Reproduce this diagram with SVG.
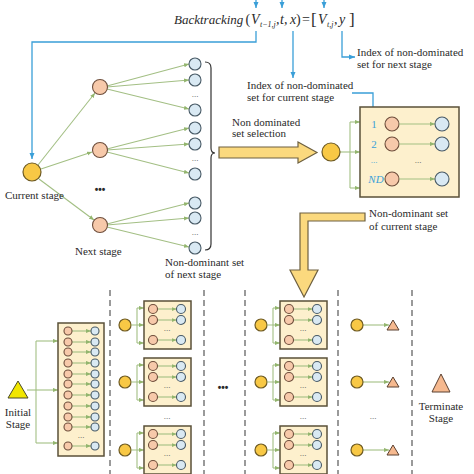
<svg xmlns="http://www.w3.org/2000/svg" width="474" height="474" viewBox="0 0 474 474">
<style>
text{font-family:"Liberation Serif","Times New Roman",serif;fill:#2a2a2a}
.lb{font-size:11px}
.it{font-style:italic;font-size:14px}
.sub{font-style:italic;font-size:8px}
.up{font-size:14px}
.bl{stroke:#3a9fd8;stroke-width:1.3;fill:none}
.gr{stroke:#a3bf84;stroke-width:1.1;fill:none}
.gold{fill:#f8c845;stroke:#6e5a22;stroke-width:1.2}
.peach{fill:#f7c9aa;stroke:#6e4e3c;stroke-width:1.1}
.blue{fill:#d9e9f3;stroke:#485a66;stroke-width:1.1}
.box{fill:#fdf0cd;stroke:#5a5038;stroke-width:1.5}
.dash{stroke:#7a7a7a;stroke-width:1.5;stroke-dasharray:6 4}
.dots{font-size:9px;fill:#555;text-anchor:middle}
.big{fill:#fbd97e;stroke:#6e6040;stroke-width:1.2}
</style>
<defs>
<marker id="ga" viewBox="0 0 6 6" refX="6" refY="3" markerWidth="5" markerHeight="5" orient="auto" markerUnits="userSpaceOnUse"><path d="M0,0.5 L6,3 L0,5.5 z" fill="#93b56e"/></marker>
<marker id="ba" viewBox="0 0 6 6" refX="6" refY="3" markerWidth="6" markerHeight="6" orient="auto" markerUnits="userSpaceOnUse"><path d="M0,0.5 L6,3 L0,5.5 z" fill="#3a9fd8"/></marker>
</defs>

<!-- formula -->
<g id="formula">
<text class="it" x="174" y="24" style="font-size:13px">Backtracking</text>
<text class="up" x="245.5" y="24">(</text>
<text class="it" x="251" y="24">V</text>
<text class="sub" x="260" y="27">t−1,j</text>
<text class="it" x="276" y="24">,</text>
<text class="it" x="280" y="24">t</text>
<text class="it" x="284" y="24">,</text>
<text class="it" x="290" y="24">x</text>
<text class="up" x="296" y="24">)</text>
<text class="up" x="302" y="24">=</text>
<text class="up" x="311" y="25" style="font-size:17px">[</text>
<text class="it" x="318" y="24">V</text>
<text class="sub" x="327" y="27">t,j</text>
<text class="it" x="334" y="24">,</text>
<text class="it" x="339" y="24">y</text>
<text class="up" x="349" y="25" style="font-size:17px">]</text>
</g>

<!-- connectors -->
<g id="connectors">
<line class="bl" x1="256" y1="0" x2="256" y2="8" marker-end="url(#ba)"/>
<line class="bl" x1="282" y1="0" x2="282" y2="8" marker-end="url(#ba)"/>
<line class="bl" x1="324" y1="0" x2="324" y2="8" marker-end="url(#ba)"/>
<polyline class="bl" points="256,31 256,42 32,42 32,159" marker-end="url(#ba)"/>
<line class="bl" x1="293" y1="31" x2="293" y2="78" marker-end="url(#ba)"/>
<polyline class="bl" points="342,31 342,57 355,57" marker-end="url(#ba)"/>
<polyline class="bl" points="352,93 373,93 373,116" marker-end="url(#ba)"/>

<!-- tree: current to next -->
<line class="gr" x1="38" y1="165" x2="95" y2="93" marker-end="url(#ga)"/>
<line class="gr" x1="41" y1="169" x2="92" y2="152" marker-end="url(#ga)"/>
<line class="gr" x1="39" y1="179" x2="94" y2="220" marker-end="url(#ga)"/>
<!-- next to leaves -->
<line class="gr" x1="107" y1="86" x2="189" y2="64" marker-end="url(#ga)"/>
<line class="gr" x1="107" y1="87" x2="189" y2="80" marker-end="url(#ga)"/>
<line class="gr" x1="107" y1="89" x2="189" y2="109" marker-end="url(#ga)"/>
<line class="gr" x1="107" y1="149" x2="189" y2="128" marker-end="url(#ga)"/>
<line class="gr" x1="107" y1="150" x2="189" y2="144" marker-end="url(#ga)"/>
<line class="gr" x1="107" y1="152" x2="189" y2="173" marker-end="url(#ga)"/>
<line class="gr" x1="107" y1="224" x2="189" y2="203" marker-end="url(#ga)"/>
<line class="gr" x1="107" y1="225" x2="189" y2="218" marker-end="url(#ga)"/>
<line class="gr" x1="107" y1="227" x2="189" y2="247" marker-end="url(#ga)"/>

<!-- brace -->
<path d="M205,62 Q211,62 211,68 L211,148 Q211,153 215,153 Q211,153 211,158 L211,244 Q211,250 205,250" fill="none" stroke="#333" stroke-width="1.2"/>

<!-- current stage box bracket -->
<line class="gr" x1="340" y1="152" x2="350" y2="152"/>
<line class="gr" x1="350" y1="122" x2="350" y2="188"/>
<line class="gr" x1="350" y1="122" x2="360" y2="122" marker-end="url(#ga)"/>
<line class="gr" x1="350" y1="152" x2="360" y2="152" marker-end="url(#ga)"/>
<line class="gr" x1="350" y1="188" x2="360" y2="188" marker-end="url(#ga)"/>

<!-- initial stage bracket -->
<line class="gr" x1="27" y1="390" x2="36" y2="390"/>
<line class="gr" x1="36" y1="341" x2="36" y2="443"/>
<line class="gr" x1="36" y1="341" x2="58" y2="341" marker-end="url(#ga)"/>
<line class="gr" x1="36" y1="390" x2="58" y2="390" marker-end="url(#ga)"/>
<line class="gr" x1="36" y1="443" x2="58" y2="443" marker-end="url(#ga)"/>

<!-- section 5 -->
<line class="gr" x1="363" y1="325" x2="389" y2="325" marker-end="url(#ga)"/>
<line class="gr" x1="363" y1="382" x2="389" y2="382" marker-end="url(#ga)"/>
<line class="gr" x1="363" y1="450" x2="389" y2="450" marker-end="url(#ga)"/>
</g>

<!-- big arrows -->
<g id="arrow-selection">
<polygon class="big" points="219,147 298,147 298,142 317,152.5 298,163 298,158 219,158"/>
</g>
<g id="arrow-down">
<polygon class="big" points="365,213 365,221 308,221 308,270 318,270 304,297 290,270 300,270 300,213"/>
</g>

<!-- dashed separators -->
<g id="separators">
<line class="dash" x1="110" y1="290" x2="110" y2="474"/>
<line class="dash" x1="204" y1="290" x2="204" y2="474"/>
<line class="dash" x1="245" y1="290" x2="245" y2="474"/>
<line class="dash" x1="338" y1="290" x2="338" y2="474"/>
<line class="dash" x1="412" y1="290" x2="412" y2="474"/>
</g>

<!-- tree nodes -->
<g id="current-stage"><circle class="gold" cx="32" cy="172" r="9"/><text class="lb" x="5" y="199">Current stage</text></g>
<g id="next-1"><circle class="peach" cx="100" cy="87" r="7.5"/></g>
<g id="next-2"><circle class="peach" cx="100" cy="150" r="7.5"/></g>
<g id="next-3"><circle class="peach" cx="100" cy="225" r="7.5"/></g>
<text x="100" y="193" style="font-family:'Liberation Sans',sans-serif;font-size:10px;font-weight:bold;text-anchor:middle">•••</text>
<text class="lb" x="75" y="255">Next stage</text>

<g id="leaves">
<circle class="blue" cx="195" cy="64" r="6"/>
<circle class="blue" cx="195" cy="80" r="6"/>
<text class="dots" x="195" y="97">...</text>
<circle class="blue" cx="195" cy="110" r="6"/>
<circle class="blue" cx="195" cy="128" r="6"/>
<circle class="blue" cx="195" cy="144" r="6"/>
<text class="dots" x="195" y="161">...</text>
<circle class="blue" cx="195" cy="174" r="6"/>
<circle class="blue" cx="195" cy="203" r="6"/>
<circle class="blue" cx="195" cy="218" r="6"/>
<text class="dots" x="195" y="235">...</text>
<circle class="blue" cx="195" cy="248" r="6"/>
</g>
<text class="lb" x="165" y="266">Non-dominant set</text>
<text class="lb" x="165" y="278">of next stage</text>

<text class="lb" x="232" y="126">Non dominated</text>
<text class="lb" x="232" y="137">set selection</text>
<text class="lb" x="247" y="89">Index of non-dominated</text>
<text class="lb" x="247" y="101">set for current stage</text>
<text class="lb" x="357" y="56">Index of non-dominated</text>
<text class="lb" x="357" y="68">set for next stage</text>

<!-- current stage set -->
<g id="current-node"><circle class="gold" cx="331" cy="152" r="9"/></g>
<g id="current-set">
<rect class="box" x="360" y="107" width="99" height="90"/>
<text class="lb" x="374" y="128" style="fill:#3a9fd8;text-anchor:middle">1</text>
<circle class="peach" cx="392" cy="124" r="7"/><line class="gr" x1="399" y1="124" x2="435" y2="124" marker-end="url(#ga)"/><circle class="blue" cx="442" cy="124" r="7"/>
<text class="lb" x="374" y="148" style="fill:#3a9fd8;text-anchor:middle">2</text>
<circle class="peach" cx="392" cy="144" r="7"/><line class="gr" x1="399" y1="144" x2="435" y2="144" marker-end="url(#ga)"/><circle class="blue" cx="442" cy="144" r="7"/>
<text class="dots" x="374" y="163" style="fill:#3a9fd8">...</text>
<text class="dots" x="418" y="163">...</text>
<text class="lb" x="376" y="183" style="fill:#3a9fd8;font-style:italic;text-anchor:middle">ND</text>
<circle class="peach" cx="392" cy="179" r="7"/><line class="gr" x1="399" y1="179" x2="435" y2="179" marker-end="url(#ga)"/><circle class="blue" cx="442" cy="179" r="7"/>
</g>
<text class="lb" x="369" y="217">Non-dominant set</text>
<text class="lb" x="369" y="230">of current stage</text>

<!-- initial stage -->
<g id="initial-stage">
<polygon points="18,381 8,398 28,398" fill="#f1e600" stroke="#4a4a2a" stroke-width="1"/>
<text class="lb" x="18" y="416" style="text-anchor:middle">Initial</text>
<text class="lb" x="18" y="428" style="text-anchor:middle">Stage</text>
</g>
<g id="initial-set">
<rect class="box" x="58" y="323" width="46" height="133"/>
<g class="gr">
<line x1="72" y1="331" x2="91" y2="331" marker-end="url(#ga)"/>
<line x1="72" y1="342" x2="91" y2="342" marker-end="url(#ga)"/>
<line x1="72" y1="352" x2="91" y2="352" marker-end="url(#ga)"/>
<line x1="72" y1="363" x2="91" y2="363" marker-end="url(#ga)"/>
<line x1="72" y1="374" x2="91" y2="374" marker-end="url(#ga)"/>
<line x1="72" y1="384" x2="91" y2="384" marker-end="url(#ga)"/>
<line x1="72" y1="395" x2="91" y2="395" marker-end="url(#ga)"/>
<line x1="72" y1="406" x2="91" y2="406" marker-end="url(#ga)"/>
<line x1="72" y1="417" x2="91" y2="417" marker-end="url(#ga)"/>
<line x1="72" y1="427" x2="91" y2="427" marker-end="url(#ga)"/>
<line x1="72" y1="446" x2="91" y2="446" marker-end="url(#ga)"/>
</g>
<g class="peach">
<circle cx="68" cy="331" r="4"/><circle cx="68" cy="342" r="4"/><circle cx="68" cy="352" r="4"/><circle cx="68" cy="363" r="4"/><circle cx="68" cy="374" r="4"/><circle cx="68" cy="384" r="4"/><circle cx="68" cy="395" r="4"/><circle cx="68" cy="406" r="4"/><circle cx="68" cy="417" r="4"/><circle cx="68" cy="427" r="4"/><circle cx="68" cy="446" r="4"/>
</g>
<g class="blue">
<circle cx="95" cy="331" r="4"/><circle cx="95" cy="342" r="4"/><circle cx="95" cy="352" r="4"/><circle cx="95" cy="363" r="4"/><circle cx="95" cy="374" r="4"/><circle cx="95" cy="384" r="4"/><circle cx="95" cy="395" r="4"/><circle cx="95" cy="406" r="4"/><circle cx="95" cy="417" r="4"/><circle cx="95" cy="427" r="4"/><circle cx="95" cy="446" r="4"/>
</g>
<text class="dots" x="81" y="438">...</text>
</g>

<!-- small set modules: section 2 -->
<g id="s2-a" transform="translate(125,325)">
<circle class="gold" cx="0" cy="0" r="6"/>
<path class="gr" d="M6,0 H12 M12,-17 V18"/>
<line class="gr" x1="12" y1="-17" x2="19" y2="-17" marker-end="url(#ga)"/><line class="gr" x1="12" y1="0" x2="19" y2="0" marker-end="url(#ga)"/><line class="gr" x1="12" y1="18" x2="19" y2="18" marker-end="url(#ga)"/>
<rect class="box" x="19" y="-24" width="47" height="48"/>
<line class="gr" x1="32.5" y1="-16" x2="51.5" y2="-16" marker-end="url(#ga)"/><line class="gr" x1="32.5" y1="-5" x2="51.5" y2="-5" marker-end="url(#ga)"/><line class="gr" x1="32.5" y1="15" x2="51.5" y2="15" marker-end="url(#ga)"/>
<circle class="peach" cx="28" cy="-16" r="4.5"/><circle class="peach" cx="28" cy="-5" r="4.5"/><circle class="peach" cx="28" cy="15" r="4.5"/>
<circle class="blue" cx="56" cy="-16" r="4.5"/><circle class="blue" cx="56" cy="-5" r="4.5"/><circle class="blue" cx="56" cy="15" r="4.5"/>
<text class="dots" x="42" y="6">...</text>
</g>
<g id="s2-b" transform="translate(125,382)">
<circle class="gold" cx="0" cy="0" r="6"/>
<path class="gr" d="M6,0 H12 M12,-17 V18"/>
<line class="gr" x1="12" y1="-17" x2="19" y2="-17" marker-end="url(#ga)"/><line class="gr" x1="12" y1="0" x2="19" y2="0" marker-end="url(#ga)"/><line class="gr" x1="12" y1="18" x2="19" y2="18" marker-end="url(#ga)"/>
<rect class="box" x="19" y="-24" width="47" height="48"/>
<line class="gr" x1="32.5" y1="-16" x2="51.5" y2="-16" marker-end="url(#ga)"/><line class="gr" x1="32.5" y1="-5" x2="51.5" y2="-5" marker-end="url(#ga)"/><line class="gr" x1="32.5" y1="15" x2="51.5" y2="15" marker-end="url(#ga)"/>
<circle class="peach" cx="28" cy="-16" r="4.5"/><circle class="peach" cx="28" cy="-5" r="4.5"/><circle class="peach" cx="28" cy="15" r="4.5"/>
<circle class="blue" cx="56" cy="-16" r="4.5"/><circle class="blue" cx="56" cy="-5" r="4.5"/><circle class="blue" cx="56" cy="15" r="4.5"/>
<text class="dots" x="42" y="6">...</text>
</g>
<g id="s2-c" transform="translate(125,450)">
<circle class="gold" cx="0" cy="0" r="6"/>
<path class="gr" d="M6,0 H12 M12,-17 V18"/>
<line class="gr" x1="12" y1="-17" x2="19" y2="-17" marker-end="url(#ga)"/><line class="gr" x1="12" y1="0" x2="19" y2="0" marker-end="url(#ga)"/><line class="gr" x1="12" y1="18" x2="19" y2="18" marker-end="url(#ga)"/>
<rect class="box" x="19" y="-24" width="47" height="48"/>
<line class="gr" x1="32.5" y1="-16" x2="51.5" y2="-16" marker-end="url(#ga)"/><line class="gr" x1="32.5" y1="-5" x2="51.5" y2="-5" marker-end="url(#ga)"/><line class="gr" x1="32.5" y1="15" x2="51.5" y2="15" marker-end="url(#ga)"/>
<circle class="peach" cx="28" cy="-16" r="4.5"/><circle class="peach" cx="28" cy="-5" r="4.5"/><circle class="peach" cx="28" cy="15" r="4.5"/>
<circle class="blue" cx="56" cy="-16" r="4.5"/><circle class="blue" cx="56" cy="-5" r="4.5"/><circle class="blue" cx="56" cy="15" r="4.5"/>
<text class="dots" x="42" y="6">...</text>
</g>
<text class="dots" x="167" y="419">...</text>

<text x="223" y="391" style="font-family:'Liberation Sans',sans-serif;font-size:10px;font-weight:bold;text-anchor:middle">•••</text>

<!-- section 4 -->
<g id="s4-a" transform="translate(261,325)">
<circle class="gold" cx="0" cy="0" r="6"/>
<path class="gr" d="M6,0 H12 M12,-17 V18"/>
<line class="gr" x1="12" y1="-17" x2="19" y2="-17" marker-end="url(#ga)"/><line class="gr" x1="12" y1="0" x2="19" y2="0" marker-end="url(#ga)"/><line class="gr" x1="12" y1="18" x2="19" y2="18" marker-end="url(#ga)"/>
<rect class="box" x="19" y="-24" width="47" height="48"/>
<line class="gr" x1="32.5" y1="-16" x2="51.5" y2="-16" marker-end="url(#ga)"/><line class="gr" x1="32.5" y1="-5" x2="51.5" y2="-5" marker-end="url(#ga)"/><line class="gr" x1="32.5" y1="15" x2="51.5" y2="15" marker-end="url(#ga)"/>
<circle class="peach" cx="28" cy="-16" r="4.5"/><circle class="peach" cx="28" cy="-5" r="4.5"/><circle class="peach" cx="28" cy="15" r="4.5"/>
<circle class="blue" cx="56" cy="-16" r="4.5"/><circle class="blue" cx="56" cy="-5" r="4.5"/><circle class="blue" cx="56" cy="15" r="4.5"/>
<text class="dots" x="42" y="6">...</text>
</g>
<g id="s4-b" transform="translate(261,382)">
<circle class="gold" cx="0" cy="0" r="6"/>
<path class="gr" d="M6,0 H12 M12,-17 V18"/>
<line class="gr" x1="12" y1="-17" x2="19" y2="-17" marker-end="url(#ga)"/><line class="gr" x1="12" y1="0" x2="19" y2="0" marker-end="url(#ga)"/><line class="gr" x1="12" y1="18" x2="19" y2="18" marker-end="url(#ga)"/>
<rect class="box" x="19" y="-24" width="47" height="48"/>
<line class="gr" x1="32.5" y1="-16" x2="51.5" y2="-16" marker-end="url(#ga)"/><line class="gr" x1="32.5" y1="-5" x2="51.5" y2="-5" marker-end="url(#ga)"/><line class="gr" x1="32.5" y1="15" x2="51.5" y2="15" marker-end="url(#ga)"/>
<circle class="peach" cx="28" cy="-16" r="4.5"/><circle class="peach" cx="28" cy="-5" r="4.5"/><circle class="peach" cx="28" cy="15" r="4.5"/>
<circle class="blue" cx="56" cy="-16" r="4.5"/><circle class="blue" cx="56" cy="-5" r="4.5"/><circle class="blue" cx="56" cy="15" r="4.5"/>
<text class="dots" x="42" y="6">...</text>
</g>
<g id="s4-c" transform="translate(261,450)">
<circle class="gold" cx="0" cy="0" r="6"/>
<path class="gr" d="M6,0 H12 M12,-17 V18"/>
<line class="gr" x1="12" y1="-17" x2="19" y2="-17" marker-end="url(#ga)"/><line class="gr" x1="12" y1="0" x2="19" y2="0" marker-end="url(#ga)"/><line class="gr" x1="12" y1="18" x2="19" y2="18" marker-end="url(#ga)"/>
<rect class="box" x="19" y="-24" width="47" height="48"/>
<line class="gr" x1="32.5" y1="-16" x2="51.5" y2="-16" marker-end="url(#ga)"/><line class="gr" x1="32.5" y1="-5" x2="51.5" y2="-5" marker-end="url(#ga)"/><line class="gr" x1="32.5" y1="15" x2="51.5" y2="15" marker-end="url(#ga)"/>
<circle class="peach" cx="28" cy="-16" r="4.5"/><circle class="peach" cx="28" cy="-5" r="4.5"/><circle class="peach" cx="28" cy="15" r="4.5"/>
<circle class="blue" cx="56" cy="-16" r="4.5"/><circle class="blue" cx="56" cy="-5" r="4.5"/><circle class="blue" cx="56" cy="15" r="4.5"/>
<text class="dots" x="42" y="6">...</text>
</g>
<text class="dots" x="303" y="419">...</text>

<!-- section 5 -->
<g id="s5-a"><circle class="gold" cx="357" cy="325" r="6"/><polygon points="393,320 387,330 399,330" fill="#f6b98f" stroke="#5a4030" stroke-width="1"/></g>
<g id="s5-b"><circle class="gold" cx="357" cy="382" r="6"/><polygon points="393,377 387,387 399,387" fill="#f6b98f" stroke="#5a4030" stroke-width="1"/></g>
<g id="s5-c"><circle class="gold" cx="357" cy="450" r="6"/><polygon points="393,445 387,455 399,455" fill="#f6b98f" stroke="#5a4030" stroke-width="1"/></g>
<text class="dots" x="373" y="419">...</text>

<!-- terminate -->
<g id="terminate-stage">
<polygon points="441,374 432,392 450,392" fill="#f6b98f" stroke="#5a4030" stroke-width="1"/>
<text class="lb" x="441" y="410" style="text-anchor:middle">Terminate</text>
<text class="lb" x="441" y="422" style="text-anchor:middle">Stage</text>
</g>
</svg>
